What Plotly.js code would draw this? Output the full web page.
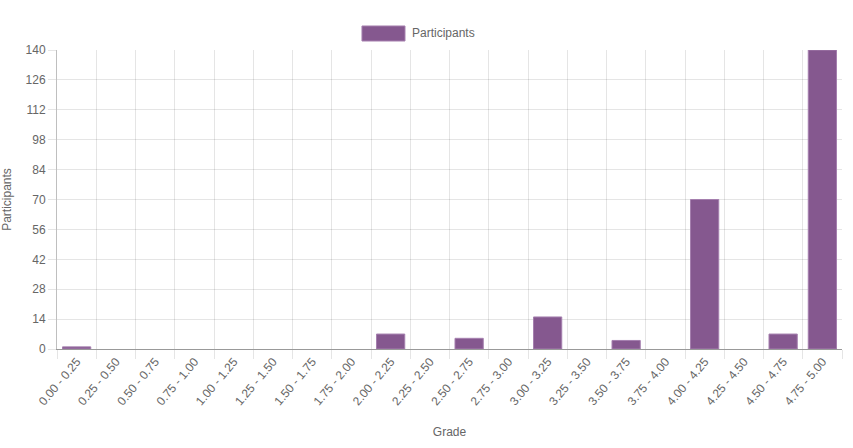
<!DOCTYPE html>
<html>
<head>
<meta charset="utf-8">
<script src="https://cdn.plot.ly/plotly-3.0.1.min.js"></script>
<style>
  html, body { margin: 0; padding: 0; background: #fff; }
  #chart { width: 853px; height: 448px; }
</style>
</head>
<body>
<div id="chart"></div>
<script>
const grades = [
  '0.00 - 0.25', '0.25 - 0.50', '0.50 - 0.75', '0.75 - 1.00',
  '1.00 - 1.25', '1.25 - 1.50', '1.50 - 1.75', '1.75 - 2.00',
  '2.00 - 2.25', '2.25 - 2.50', '2.50 - 2.75', '2.75 - 3.00',
  '3.00 - 3.25', '3.25 - 3.50', '3.50 - 3.75', '3.75 - 4.00',
  '4.00 - 4.25', '4.25 - 4.50', '4.50 - 4.75', '4.75 - 5.00',
];
const participants = [1, 0, 0, 0, 0, 0, 0, 0, 7, 0, 5, 0, 15, 0, 4, 0, 70, 0, 7, 140];
const yTicks = [0, 14, 28, 42, 56, 70, 84, 98, 112, 126, 140];
const seriesName = 'Participants';

const BAR_COLOR = '#85588f';
const BAR_BORDER = '#a57fae';
const TEXT = '#666';
const GRID = 'rgba(0,0,0,0.1)';

const trace = {
  type: 'bar',
  name: seriesName,
  x: grades,
  y: participants,
  marker: {
    color: BAR_COLOR,
    // no outline on empty bins, like the original
    line: { color: BAR_BORDER, width: participants.map(v => v ? 1 : 0) },
  },
  hovertemplate: '<b>%{x}</b><br>%{y}<extra></extra>',
};

const layout = {
  width: 853,
  height: 448,
  paper_bgcolor: '#fff',
  plot_bgcolor: '#fff',
  font: { family: 'Liberation Sans, Arial, sans-serif', size: 12, color: TEXT },
  margin: { t: 50, r: 11, b: 99, l: 57 },
  bargap: 0.28,
  showlegend: false,
  // chart.js-style legend: wide swatch + label, centred above the plot
  shapes: [{
    type: 'rect', xref: 'paper', yref: 'paper',
    x0: 0.3885, x1: 0.4433, y0: 1.0301, y1: 1.0803,
    fillcolor: BAR_COLOR, line: { color: BAR_BORDER, width: 1 },
  }],
  annotations: [{
    text: seriesName, xref: 'paper', yref: 'paper',
    x: 0.4497, y: 1.0569, xanchor: 'left', yanchor: 'middle',
    showarrow: false, font: { size: 12, color: TEXT },
  }],
  xaxis: {
    type: 'category',
    tickson: 'boundaries',
    showgrid: true,
    gridcolor: GRID,
    ticks: 'outside',
    ticklen: 9,
    tickcolor: GRID,
    tickangle: -50,
    tickfont: { size: 12, color: TEXT },
    showline: true,
    linecolor: '#999',
    zeroline: false,
    title: { text: 'Grade', font: { size: 12, color: TEXT }, standoff: 20 },
  },
  yaxis: {
    range: [0, 140],
    tickvals: yTicks,
    showgrid: true,
    gridcolor: GRID,
    ticks: 'outside',
    ticklen: 8,
    tickcolor: GRID,
    tickfont: { size: 12, color: TEXT },
    showline: true,
    linecolor: 'rgba(0,0,0,0.25)',
    zeroline: false,
    title: { text: 'Participants', font: { size: 12, color: TEXT }, standoff: 14 },
  },
};

Plotly.newPlot('chart', [trace], layout, { displayModeBar: false, responsive: false });
</script>
</body>
</html>
